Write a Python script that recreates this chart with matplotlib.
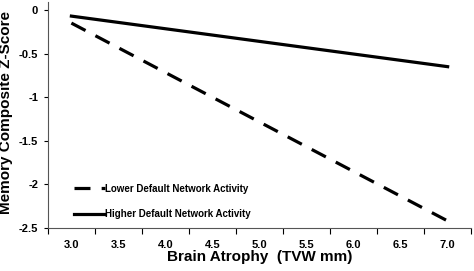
import matplotlib.pyplot as plt
from matplotlib.ticker import FixedLocator, NullFormatter

plt.rcParams['font.family'] = ['Liberation Sans', 'DejaVu Sans']
plt.rcParams['font.weight'] = 'bold'

# categories on the x axis (Excel-style category axis)
categories = ['3.0', '3.5', '4.0', '4.5', '5.0', '5.5', '6.0', '6.5', '7.0']
# endpoints of the two fitted lines (TVW mm, z-score)
line_x = [3.0, 7.0]
lower_dmn = [-0.15, -2.42]
higher_dmn = [-0.07, -0.65]

fig = plt.figure(figsize=(4.74, 2.71), dpi=100)
ax = fig.add_axes([0.101, 0.159, 0.893, 0.833])

ax.plot(line_x, lower_dmn, color='black', lw=2.3, ls=(0, (5, 3.5)),
        label='Lower Default Network Activity')
ax.plot(line_x, higher_dmn, color='black', lw=2.3, ls='-',
        label='Higher Default Network Activity')

cat_pos = [float(c) for c in categories]
ax.set_xlim(2.75, 7.25)
ax.set_ylim(-2.5, 0.09)

# tick marks sit between categories, labels at the categories
ax.xaxis.set_major_locator(FixedLocator([p - 0.25 for p in cat_pos] + [7.25]))
ax.xaxis.set_major_formatter(NullFormatter())
ax.xaxis.set_minor_locator(FixedLocator(cat_pos))
ax.set_xticklabels(categories, minor=True)
ax.tick_params(axis='x', which='major', length=4, width=0.8, direction='out')
ax.tick_params(axis='x', which='minor', length=0, pad=9, labelsize=8)

ax.set_yticks([0, -0.5, -1, -1.5, -2, -2.5])
ax.set_yticklabels(['0', '-0.5', '-1', '-1.5', '-2', '-2.5'])
ax.tick_params(axis='y', length=3, width=0.8, direction='out', labelsize=8, pad=4)

for s in ['top', 'right']:
    ax.spines[s].set_visible(False)
for s in ['left', 'bottom']:
    ax.spines[s].set_color('#555555')
    ax.spines[s].set_linewidth(0.8)

ax.set_xlabel('Brain Atrophy  (TVW mm)', fontsize=11, fontweight='bold', labelpad=0)
ax.set_ylabel('Memory Composite Z-Score', fontsize=11, fontweight='bold')
ax.yaxis.set_label_coords(-0.083, 0.51)

ax.legend(loc='lower left', bbox_to_anchor=(0.04, 0.0), frameon=False,
          handlelength=3.2, handletextpad=0.05, labelspacing=1.6,
          prop={'weight': 'bold', 'size': 7})

fig.savefig('out.png', dpi=100)
